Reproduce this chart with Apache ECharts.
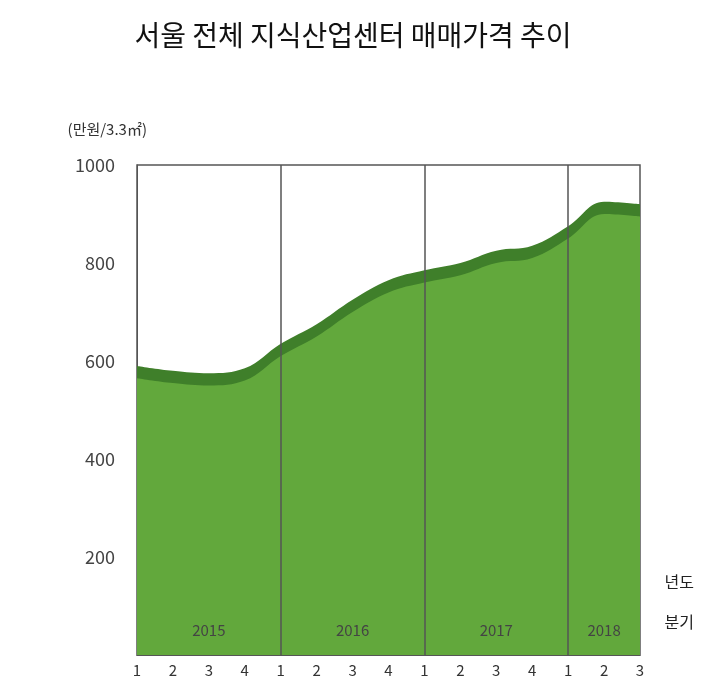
<!DOCTYPE html><html><head><meta charset="utf-8">
<script src="https://cdn.jsdelivr.net/npm/echarts@6/dist/echarts.min.js"></script>
<style>body{margin:0;background:#fff}#c{width:706px;height:690px}</style></head><body><div id="c"></div>
<script>
const quarters=['1','2','3','4','1','2','3','4','1','2','3','4','1','2','3'];
const years=['2015','2016','2017','2018'];
const yearStart=[0,4,8,12];
const prices=[565,555,550,560,610,650,700,740,760,775,800,810,850,900,895];
const yTicks=[200,400,600,800,1000];
const depth=prices.map(v=>v+25);
const f='"Noto Sans CJK KR","Noto Sans",sans-serif';
const ch=echarts.init(document.getElementById('c'));
ch.setOption({
 animation:false,
 title:{text:'서울 전체 지식산업센터 매매가격 추이',left:'center',top:16,textStyle:{fontFamily:f,fontSize:28,fontWeight:'normal',color:'#111'}},
 grid:{left:137,right:66,top:165,bottom:35,show:true,borderColor:'#555',borderWidth:1.5},
 xAxis:{type:'category',data:quarters,boundaryGap:false,axisLine:{lineStyle:{color:'#555'}},axisTick:{show:false},
   axisLabel:{fontFamily:f,fontSize:15,color:'#333',margin:8},splitLine:{show:false}},
 yAxis:{type:'value',min:0,max:1000,interval:200,axisLine:{show:true,lineStyle:{color:'#555'}},
   axisLabel:{fontFamily:f,fontSize:18,color:'#444',margin:22,formatter:v=>yTicks.includes(v)?v:''},
   splitLine:{show:false},name:'(만원/3.3㎡)',nameLocation:'end',nameGap:28,
   nameTextStyle:{fontFamily:f,fontSize:15,color:'#333',align:'right',padding:[0,-10,0,0]}},
 series:[
  {type:'line',data:depth,smooth:0.4,symbol:'none',lineStyle:{width:0},areaStyle:{color:'#3f7f2a',opacity:1},z:1},
  {type:'line',data:prices,smooth:0.4,symbol:'none',lineStyle:{width:0},areaStyle:{color:'#62a83c',opacity:1},z:2,
   markLine:{silent:true,symbol:'none',label:{show:false},lineStyle:{color:'#555',type:'solid',width:1.5},
    data:yearStart.slice(1).map(i=>({xAxis:i}))}}
 ]
});
const g=[];
years.forEach((y,k)=>{
 const s=yearStart[k], e=k<3?yearStart[k+1]:quarters.length-1;
 const p=ch.convertToPixel({xAxisIndex:0,yAxisIndex:0},[(s+e)/2,50]);
 g.push({type:'text',x:p[0],y:p[1],style:{text:y,fontFamily:f,fontSize:15,fill:'#444',align:'center',verticalAlign:'middle'},z:10});
});
g.push({type:'text',right:12,bottom:100,style:{text:'년도',fontFamily:f,fontSize:16,fill:'#222'}});
g.push({type:'text',right:12,bottom:60,style:{text:'분기',fontFamily:f,fontSize:16,fill:'#222'}});
ch.setOption({graphic:g});
</script></body></html>
